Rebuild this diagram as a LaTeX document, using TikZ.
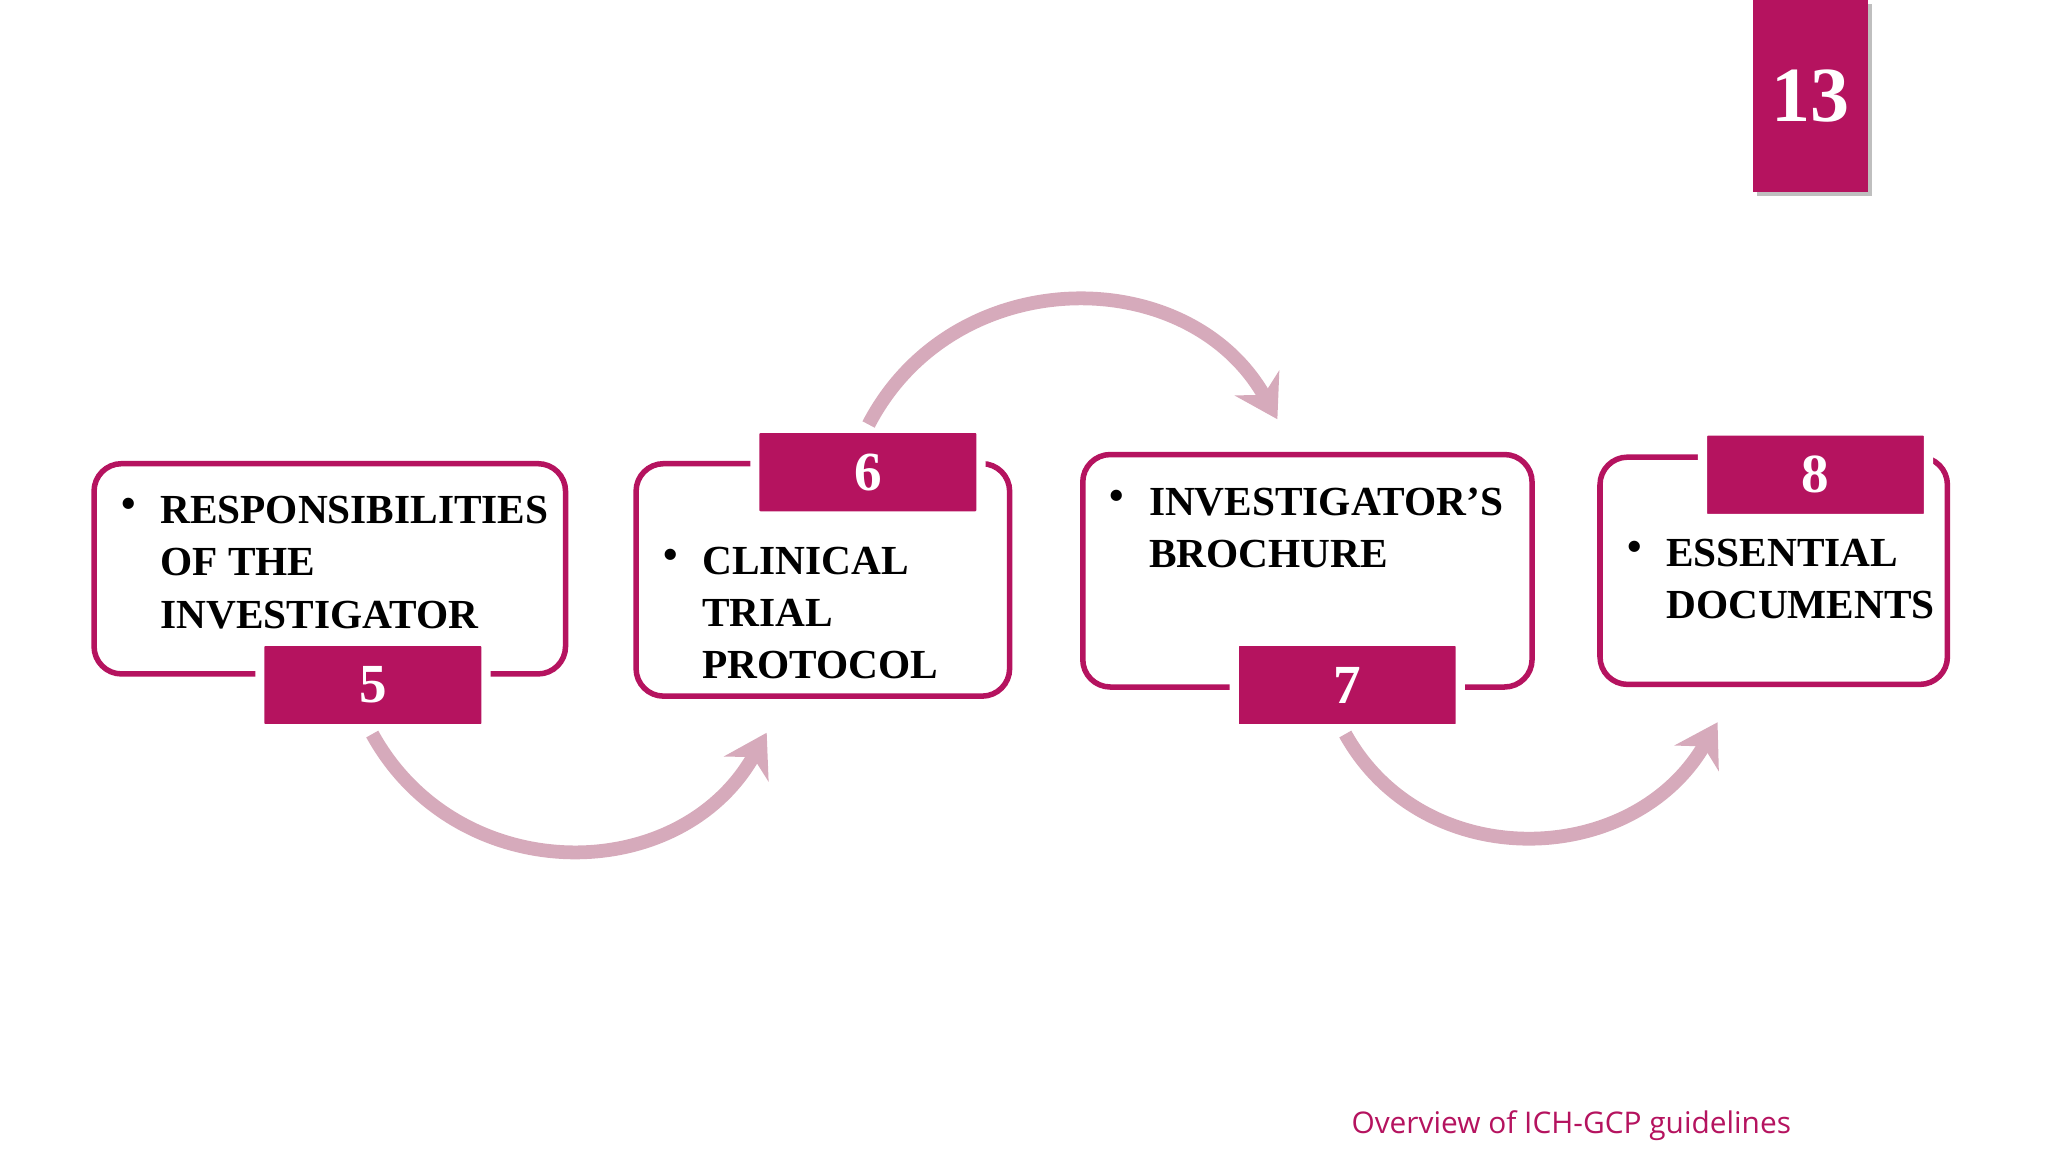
\documentclass[tikz,border=0pt]{standalone}
\usepackage{fontspec}
\setmainfont{Liberation Serif}
\newfontfamily\footfont{Open Sans}
\usetikzlibrary{calc,arrows.meta}
\definecolor{ichmag}{HTML}{B5135F}
\definecolor{ichpink}{HTML}{D6AABB}
\tikzset{
  card/.style={draw=ichmag, line width=1.2pt, rounded corners=6pt, fill=white},
  tab/.style={fill=ichmag, draw=white, line width=2pt, rounded corners=1pt, text=white,
    font=\bfseries\fontsize{12}{14}\selectfont, inner sep=0pt},
  item/.style={anchor=north west, align=left, inner sep=0pt,
    font=\bfseries\fontsize{9}{11.4}\selectfont},
  dot/.style={anchor=north west, inner sep=0pt, font=\bfseries\fontsize{9}{11.4}\selectfont},
  flow/.style={draw=ichpink, line width=3pt, -{Stealth[length=9pt,width=11pt]}}
}
\begin{document}
\begin{tikzpicture}[x=0.01cm,y=-0.01cm]
  \useasboundingbox (0,0) rectangle (1568,882);

  % page number
  \fill[black!25] (1345,3) rectangle (1433,150);
  \node[fill=ichmag, minimum width=0.88cm, minimum height=1.47cm, inner sep=0pt,
    text=white, font=\bfseries\fontsize{17}{20}\selectfont] (page) at (1386,73.5) {13};

  % cards
  \draw[card] (72,355) rectangle (433,516);
  \draw[card] (487,355) rectangle (773,533);
  \draw[card] (829,348) rectangle (1173,526);
  \draw[card] (1225,350) rectangle (1491,524);

  % tabs
  \node[tab, minimum width=1.73cm, minimum height=0.67cm] (t5) at (285.5,524.5) {5};
  \node[tab, minimum width=1.73cm, minimum height=0.67cm] (t6) at (664.5,361.5) {6};
  \node[tab, minimum width=1.73cm, minimum height=0.67cm] (t7) at (1031.5,524.5) {7};
  \node[tab, minimum width=1.73cm, minimum height=0.67cm] (t8) at (1390,363.5) {8};

  % texts
  \node[dot] (b1) at (92,381) {\textbullet};
  \node[item] (i1) at (122,379) {RESPONSIBILITIES\\OF THE\\INVESTIGATOR};
  \node[dot] (b2) at (507,420) {\textbullet};
  \node[item] (i2) at (537,418) {CLINICAL\\TRIAL\\PROTOCOL};
  \node[dot] (b3) at (849,375) {\textbullet};
  \node[item] (i3) at (879,373) {INVESTIGATOR’S\\BROCHURE};
  \node[dot] (b4) at (1245,414) {\textbullet};
  \node[item] (i4) at (1275,412) {ESSENTIAL\\DOCUMENTS};

  % flow arrows
  \coordinate (a1s) at (285,562); \coordinate (a1e) at (587,561);
  \coordinate (a2s) at (665,325); \coordinate (a2e) at (978,321);
  \coordinate (a3s) at (1030,562); \coordinate (a3e) at (1315,553);
  \draw[flow] (a1s) .. controls (350,680) and (520,680) .. (a1e);
  \draw[flow] (a2s) .. controls (730,200) and (910,200) .. (a2e);
  \draw[flow] (a3s) .. controls (1090,670) and (1250,665) .. (a3e);

  % footer
  \node[text=ichmag, font=\footfont\fontsize{6.5}{8}\selectfont, inner sep=0pt] (foot)
    at (1203,862) {Overview of ICH-GCP guidelines};
\end{tikzpicture}
\end{document}
